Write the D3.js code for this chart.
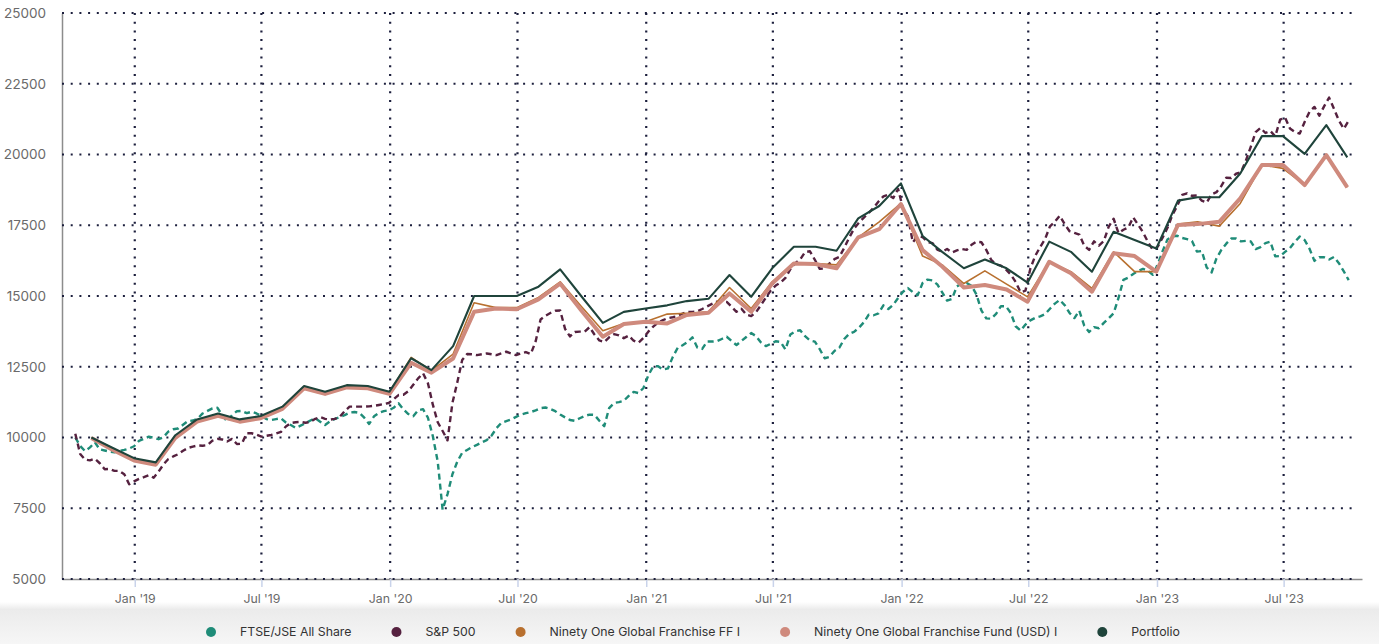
<!DOCTYPE html>
<html>
<head>
<meta charset="utf-8">
<script src="https://cdn.jsdelivr.net/npm/d3@7"></script>
<style>
  body { margin: 0; background: #fff; }
  svg { display: block; font-family: Inter, "Open Sans", sans-serif; }
</style>
</head>
<body>
<div id="chart"></div>
<script>
// weekly index series (first value on weekStart, one value per week)
var weekStart = new Date(2018, 9, 8);

var ftseValues = [
  10000, 9700, 9520, 9650, 9830, 9580, 9540, 9500, 9480, 9520,
  9560, 9610, 9690, 9880, 9950, 10030, 9990, 9940, 10010, 10210,
  10290, 10320, 10450, 10580, 10600, 10670, 10850, 10940, 11030, 11050,
  10790, 10560, 10790, 10930, 10940, 10860, 10910, 10850, 10760, 10650,
  10620, 10650, 10680, 10530, 10440, 10340, 10420, 10500, 10600, 10680,
  10560, 10440, 10570, 10660, 10720, 10790, 10880, 10900, 10870, 10700,
  10480, 10750, 10870, 10930, 10960, 11050, 11210, 10990, 10830, 10750,
  10960, 11000, 10700, 10050, 9150, 7450, 8000, 8700, 9150, 9460,
  9560, 9660, 9740, 9830, 9910, 10070, 10330, 10520, 10580, 10640,
  10730, 10810, 10860, 10900, 10960, 11040, 11060, 11010, 10930, 10810,
  10710, 10620, 10590, 10680, 10760, 10810, 10800, 10590, 10400, 11040,
  11220, 11250, 11300, 11470, 11610, 11570, 11750, 12200, 12510, 12520,
  12400, 12440, 12850, 13170, 13260, 13370, 13540, 13180, 13130, 13390,
  13390, 13400, 13480, 13560, 13410, 13270, 13410, 13550, 13690, 13580,
  13360, 13230, 13310, 13400, 13380, 13110, 13640, 13750, 13790, 13580,
  13430, 13390, 13120, 12800, 12850, 13060, 13170, 13480, 13660, 13730,
  13880, 14070, 14340, 14320, 14390, 14670, 14540, 14690, 14930, 15150,
  15280, 15140, 15030, 15460, 15580, 15550, 15410, 15130, 14840, 14900,
  15340, 15440, 15460, 15360, 15050, 14490, 14210, 14200, 14370, 14640,
  14640, 14400, 13930, 13780, 13990, 14140, 14230, 14280, 14360, 14550,
  14730, 14860, 14680, 14400, 14220, 14480, 13950, 13730, 13900, 13860,
  14050, 14210, 14390, 14930, 15570, 15650, 15780, 15880, 15960, 15890,
  15750, 16110, 16580, 17000, 17110, 17130, 17050, 17010, 16940, 16570,
  16590, 16010, 15830, 16330, 16630, 16850, 17030, 17030, 16930, 16950,
  16930, 16660, 16730, 16870, 16920, 16400, 16410, 16560, 16690, 16910,
  17100, 16980, 16670, 16240, 16370, 16370, 16290, 16380, 16160, 15870,
  15560
];

var spxValues = [
  10130, 9420, 9220, 9190, 9250, 9090, 8880, 8890, 8820, 8820,
  8700, 8350, 8450, 8540, 8600, 8670, 8580, 8790, 9050, 9240,
  9330, 9410, 9530, 9630, 9680, 9720, 9710, 9730, 9890, 9950,
  9930, 9860, 9950, 9770, 9780, 10150, 10150, 10100, 10030, 10060,
  10090, 10140, 10200, 10390, 10510, 10540, 10550, 10520, 10550, 10660,
  10720, 10660, 10630, 10660, 10730, 10930, 11090, 11090, 11090, 11090,
  11100, 11120, 11150, 11180, 11220, 11350, 11500, 11510, 11640, 11860,
  12090, 12270, 11920, 11160, 10540, 10230, 9900, 11220, 11950, 12740,
  12950, 12940, 12910, 12940, 12970, 12940, 12910, 12970, 13030, 12970,
  12910, 12970, 13020, 12950, 13400, 14170, 14300, 14400, 14480, 14490,
  13840, 13570, 13730, 13740, 13740, 13900, 13640, 13430, 13370, 13540,
  13650, 13610, 13510, 13600, 13420, 13350, 13520, 13740, 13920, 14060,
  14150, 14220, 14250, 14290, 14380, 14440, 14440, 14460, 14540, 14630,
  14720, 14800, 14800, 14790, 14620, 14440, 14550, 14340, 14290, 14430,
  14680, 14940, 15200, 15370, 15470, 15640, 15950, 16160, 16290, 16550,
  16580, 16280, 15960, 15980, 16150, 16300, 16380, 16700, 17060, 17380,
  17590, 17770, 17940, 18120, 18340, 18520, 18580, 18460, 18780, 18090,
  17810, 16900, 17110, 17080, 16910, 16870, 16640, 16560, 16660, 16540,
  16610, 16660, 16630, 16810, 16920, 16900, 16630, 16280, 16120, 16070,
  15940, 15760, 15500, 15130, 15190, 15970, 16420, 16730, 17010, 17460,
  17620, 17840, 17540, 17290, 17230, 17170, 16780, 16630, 16930, 16780,
  16940, 17450, 17730, 17220, 17340, 17420, 17780, 17520, 17250, 16910,
  16630, 16740, 17060, 17410, 17860, 18190, 18570, 18630, 18540, 18550,
  18370, 18300, 18590, 18670, 18890, 19180, 19170, 19320, 19370, 19780,
  20270, 20790, 20940, 20760, 20830, 20640, 21230, 21310, 20920, 20800,
  20740, 21150, 21510, 21680, 21370, 21710, 22010, 21610, 21200, 20910,
  21200
];

// monthly series, month ends Oct 2018 .. Sep 2023
var monthEnds = d3.timeMonth.range(new Date(2018, 10, 1), new Date(2023, 10, 1))
  .map(function(d) { return d3.timeDay.offset(d, -1); });

var ffValues = [
  10000, 9620, 9250, 9100, 10060, 10620, 10830, 10600, 10730, 11070,
  11800, 11600, 11830, 11800, 11600, 12830, 12360, 12950, 14760, 14590,
  14590, 14950, 15500, 14640, 13770, 14030, 14090, 14360, 14390, 14440,
  15300, 14560, 15500, 16170, 16150, 16100, 17070, 17620, 18270, 16410,
  16100, 15440, 15890, 15420, 14970, 16210, 15860, 15270, 16560, 15860,
  15860, 17540, 17620, 17470, 18270, 19630, 19510, 18920, 19980, 18840
];

var usdValues = [
  9980, 9570, 9190, 9040, 9990, 10560, 10770, 10560, 10680, 11010,
  11740, 11540, 11770, 11740, 11540, 12640, 12290, 12790, 14440, 14560,
  14530, 14880, 15440, 14500, 13560, 14010, 14090, 14030, 14330, 14410,
  15090, 14440, 15440, 16150, 16130, 15980, 17070, 17360, 18250, 16620,
  16040, 15300, 15390, 15230, 14800, 16210, 15800, 15150, 16510, 16410,
  15860, 17510, 17540, 17620, 18450, 19630, 19630, 18920, 19980, 18840
];

var portfolioValues = [
  10000, 9640, 9270, 9120, 10080, 10640, 10850, 10640, 10760, 11090,
  11820, 11620, 11850, 11820, 11620, 12800, 12380, 13230, 15000, 15000,
  15000, 15330, 15940, 15000, 14050, 14440, 14560, 14670, 14820, 14900,
  15740, 14970, 15980, 16740, 16740, 16600, 17740, 18180, 18980, 17120,
  16560, 15980, 16290, 15980, 15470, 16920, 16560, 15860, 17270, 16980,
  16680, 18370, 18490, 18490, 19330, 20650, 20650, 20020, 21040, 19900
];

var yTicks = [5000, 7500, 10000, 12500, 15000, 17500, 20000, 22500, 25000];
var xTicks = ["2019-01-01", "2019-07-01", "2020-01-01", "2020-07-01", "2021-01-01",
  "2021-07-01", "2022-01-01", "2022-07-01", "2023-01-01", "2023-07-01"];

var seriesNames = ["FTSE/JSE All Share", "S&P 500", "Ninety One Global Franchise FF I",
  "Ninety One Global Franchise Fund (USD) I", "Portfolio"];
var seriesColors = ["#1f8c78", "#55213f", "#b8702f", "#cf8a7d", "#1f443b"];

//svg parameters
var svgWidth = 1379;
var svgHeight = 644;

var chartMargin = { top: 13, bottom: 65, right: 17, left: 62 };
var chartWidth = svgWidth - chartMargin.left - chartMargin.right;
var chartHeight = svgHeight - chartMargin.top - chartMargin.bottom;

var svg = d3.select("#chart")
  .append("svg")
  .attr("width", svgWidth)
  .attr("height", svgHeight);

// soft grey band behind the legend
var defs = svg.append("defs");
var grad = defs.append("linearGradient")
  .attr("id", "legendBg")
  .attr("x1", 0).attr("y1", 0).attr("x2", 0).attr("y2", 1);
grad.append("stop").attr("offset", "0%").attr("stop-color", "#ffffff");
grad.append("stop").attr("offset", "18%").attr("stop-color", "#ebebeb");
grad.append("stop").attr("offset", "100%").attr("stop-color", "#f6f6f6");

svg.append("rect")
  .attr("x", 0).attr("y", 602)
  .attr("width", svgWidth).attr("height", svgHeight - 602)
  .attr("fill", "url(#legendBg)");

var chartGroup = svg.append("g")
  .attr("transform", `translate(${chartMargin.left}, ${chartMargin.top})`);

var parseDate = d3.timeParse("%Y-%m-%d");

// scales
var xScale = d3.scaleTime()
  .domain([new Date(2018, 8, 19), new Date(2023, 9, 21)])
  .range([0, chartWidth]);

var yScale = d3.scaleLinear()
  .domain([5000, 25000])
  .range([chartHeight, 0]);

// axes
var bottomAxis = d3.axisBottom(xScale)
  .tickValues(xTicks.map(parseDate))
  .tickFormat(d3.timeFormat("%b '%y"))
  .tickSize(8)
  .tickSizeOuter(0)
  .tickPadding(7);

var leftAxis = d3.axisLeft(yScale)
  .tickValues(yTicks)
  .tickFormat(d3.format("d"))
  .tickSize(0)
  .tickSizeOuter(0)
  .tickPadding(16);

var xAxisG = chartGroup.append("g")
  .attr("transform", `translate(0, ${chartHeight})`)
  .call(bottomAxis);
xAxisG.select(".domain").attr("stroke", "#8c8c8c").attr("stroke-width", 1.5);
xAxisG.selectAll(".tick line").attr("stroke", "#c9d3ea").attr("stroke-width", 1.5);
xAxisG.selectAll(".tick text")
  .attr("fill", "#6a6a6a")
  .attr("font-size", "12.3px")
  .attr("font-family", "Inter, sans-serif");

var yAxisG = chartGroup.append("g").call(leftAxis);
yAxisG.select(".domain").attr("stroke", "#8c8c8c").attr("stroke-width", 1.5);
yAxisG.selectAll(".tick text")
  .attr("fill", "#6a6a6a")
  .attr("font-size", "13.5px")
  .attr("font-family", "Inter, sans-serif");

// dotted grid
chartGroup.append("g").selectAll("line")
  .data(yTicks)
  .enter()
  .append("line")
  .attr("x1", 0)
  .attr("x2", chartWidth - 4)
  .attr("y1", d => yScale(d))
  .attr("y2", d => yScale(d))
  .attr("stroke", "#1c1f3d")
  .attr("stroke-width", 2.2)
  .attr("stroke-dasharray", "2,6.7");

chartGroup.append("g").selectAll("line")
  .data(xTicks.map(parseDate))
  .enter()
  .append("line")
  .attr("x1", d => xScale(d))
  .attr("x2", d => xScale(d))
  .attr("y1", 0)
  .attr("y2", chartHeight)
  .attr("stroke", "#1c1f3d")
  .attr("stroke-width", 2.2)
  .attr("stroke-dasharray", "2,6.7");

// build series
function weekly(values) {
  return values.map(function(v, i) {
    return { date: d3.timeDay.offset(weekStart, 7 * i), value: v };
  });
}
function monthly(values) {
  return values.map(function(v, i) {
    return { date: monthEnds[i], value: v };
  });
}

var line = d3.line()
  .x(d => xScale(d.date))
  .y(d => yScale(d.value));

var series = [
  { data: weekly(ftseValues), width: 2.4, dash: "6,4" },
  { data: weekly(spxValues), width: 2.4, dash: "6,4" },
  { data: monthly(ffValues), width: 1.6, dash: null },
  { data: monthly(usdValues), width: 4, dash: null },
  { data: monthly(portfolioValues), width: 2.1, dash: null }
];

series.forEach(function(s, i) {
  chartGroup.append("path")
    .datum(s.data)
    .attr("d", line)
    .attr("fill", "none")
    .attr("stroke", seriesColors[i])
    .attr("stroke-width", s.width)
    .attr("stroke-linejoin", "round")
    .attr("stroke-dasharray", s.dash);
});

// legend
var legend = svg.append("g").attr("transform", "translate(0, 632)");
var cursor = 211;
seriesNames.forEach(function(name, i) {
  legend.append("circle")
    .attr("cx", cursor)
    .attr("cy", 0)
    .attr("r", 5)
    .attr("fill", seriesColors[i]);
  var label = legend.append("text")
    .attr("x", cursor + 29)
    .attr("y", 0)
    .attr("dy", "0.35em")
    .attr("fill", "#333")
    .attr("font-size", "12.3px")
    .text(name);
  cursor = cursor + 29 + label.node().getComputedTextLength() + 45;
});
</script>
</body>
</html>
